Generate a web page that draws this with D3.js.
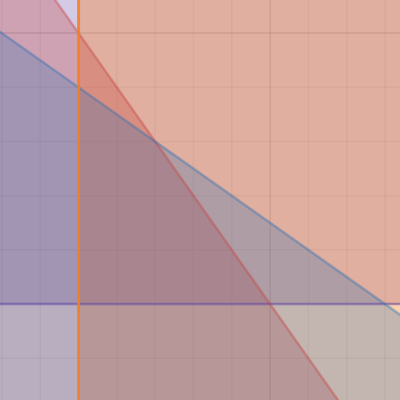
<!DOCTYPE html><html><head><script src="https://cdn.jsdelivr.net/npm/d3@7"></script>
<style>body{margin:0}</style></head><body><svg id="c" width="400" height="400"></svg>
<script>
const xDomain=[-7.05,3.39], yDomain=[-1.77,5.61];
const xTicks=[-7,-6,-5,-4,-3,-2,-1,0,1,2,3];
const yTicks=[-1,0,1,2,3,4,5];
const lines=[
 {name:"red",m:-1,b:0,side:"below",color:"#c74440",op:0.3},
 {name:"blue",m:-0.5,b:1.5,side:"below",color:"#2d70b3",op:0.28}
];
const vlines=[{x:-5,side:"right",color:"#fa7e19",op:0.35}];
const hlines=[{y:0,side:"above",color:"#6042a6",op:0.28}];
const svg=d3.select("#c");
const x=d3.scaleLinear().domain(xDomain).range([0,400]);
const y=d3.scaleLinear().domain(yDomain).range([400,0]);
svg.append("rect").attr("width",400).attr("height",400).attr("fill","#fff");
const [x0,x1]=xDomain,[y0,y1]=yDomain;
const ln=d3.line().x(d=>x(d[0])).y(d=>y(d[1]));
svg.append("g").selectAll("line").data(xTicks).join("line").attr("x1",d=>x(d)).attr("x2",d=>x(d)).attr("y1",0).attr("y2",400)
 .attr("stroke","#000").attr("stroke-opacity",d=>d===0?0.14:0.06).attr("stroke-width",1.5);
svg.append("g").selectAll("line").data(yTicks).join("line").attr("y1",d=>y(d)).attr("y2",d=>y(d)).attr("x1",0).attr("x2",400)
 .attr("stroke","#000").attr("stroke-opacity",d=>d===5?0.14:0.06).attr("stroke-width",1.5);
hlines.forEach(h=>svg.append("path").attr("d",ln([[x0,h.y],[x1,h.y],[x1,y1],[x0,y1]])).attr("fill",h.color).attr("opacity",h.op));
vlines.forEach(v=>svg.append("path").attr("d",ln([[v.x,y0],[x1,y0],[x1,y1],[v.x,y1]])).attr("fill",v.color).attr("opacity",v.op));
lines.forEach(l=>svg.append("path").attr("d",ln([[x0-5,l.m*(x0-5)+l.b],[x1+5,l.m*(x1+5)+l.b],[x1+5,y0-20],[x0-5,y0-20]])).attr("fill",l.color).attr("opacity",l.op));
hlines.forEach(h=>svg.append("path").attr("d",ln([[x0,h.y],[x1,h.y]])).attr("stroke",h.color).attr("stroke-width",2.5).attr("stroke-opacity",0.5));
lines.forEach(l=>svg.append("path").attr("d",ln([[x0-5,l.m*(x0-5)+l.b],[x1+5,l.m*(x1+5)+l.b]])).attr("stroke",l.color).attr("stroke-width",2.5).attr("stroke-opacity",0.4));
vlines.forEach(v=>svg.append("path").attr("d",ln([[v.x,y0],[v.x,y1]])).attr("stroke",v.color).attr("stroke-width",3).attr("stroke-opacity",0.85));
</script></body></html>
